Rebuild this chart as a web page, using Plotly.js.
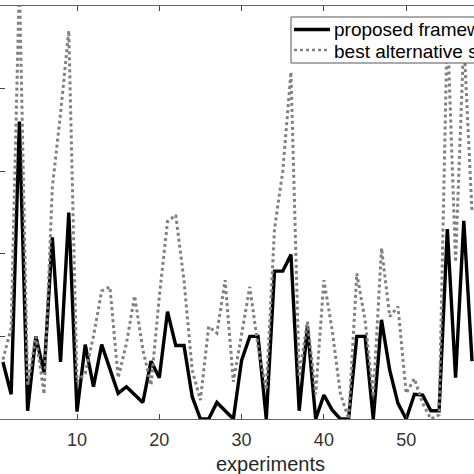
<!DOCTYPE html>
<html>
<head>
<meta charset="utf-8">
<script src="https://cdn.plot.ly/plotly-3.0.1.min.js"></script>
<style>html,body{margin:0;padding:0;background:#fff;}#chart{width:474px;height:474px;}</style>
</head>
<body>
<div id="chart"></div>
<script>
var experiments = [];
for (var i = 1; i <= 58; i++) experiments.push(i);

var proposedFramework = [
  0.69, 0.30, 3.60, 0.10, 1.00, 0.56, 2.20, 0.69, 2.50, 0.09,
  0.90, 0.39, 0.90, 0.60, 0.31, 0.39, 0.29, 0.20, 0.70, 0.50,
  1.30, 0.89, 0.89, 0.27, 0.00, 0.00, 0.20, 0.10, 0.00, 0.71,
  1.00, 1.00, 0.00, 1.79, 1.79, 1.99, 0.10, 1.12, 0.00, 0.29,
  0.11, 0.00, 0.00, 1.00, 1.00, 0.00, 1.20, 0.59, 0.19, 0.00,
  0.30, 0.29, 0.10, 0.10, 2.30, 0.50, 2.40, 0.70
];

var bestAlternative = [
  0.72, 1.10, 5.30, 0.40, 1.00, 0.30, 2.80, 3.70, 4.70, 0.45,
  0.55, 1.00, 1.55, 1.60, 0.50, 0.91, 1.49, 0.84, 0.41, 1.48,
  2.39, 2.47, 1.68, 0.59, 0.23, 1.12, 1.04, 1.68, 0.45, 1.04,
  1.60, 0.88, 0.35, 2.30, 3.00, 4.20, 0.51, 1.18, 0.30, 1.68,
  1.08, 0.31, 0.00, 1.76, 1.20, 0.27, 2.07, 1.24, 1.36, 0.31,
  0.49, 0.19, 0.00, 0.05, 4.80, 1.90, 4.60, 2.50
];

var xTickVals = [10, 20, 30, 40, 50, 60];
var yTickVals = [0, 1, 2, 3, 4, 5];
var seriesNames = ['proposed framework', 'best alternative solution'];
var xTitle = 'experiments';

var font = 'Liberation Sans, Arial, Helvetica, sans-serif';
var solidColor = '#000000';
var dotColor = '#808080';

var traces = [
  {
    x: experiments, y: proposedFramework, name: seriesNames[0],
    type: 'scatter', mode: 'lines',
    line: {color: solidColor, width: 3.4}
  },
  {
    x: experiments, y: bestAlternative, name: seriesNames[1],
    type: 'scatter', mode: 'lines',
    line: {color: dotColor, width: 3, dash: 'dot'}
  }
];

// pixel helpers for the legend box (plot area: x 0..474, y 6..419)
function px(xp) { return xp / 474; }
function py(yp) { return (419 - yp) / 413; }

var layout = {
  width: 474, height: 474,
  margin: {l: 0, r: 0, t: 6, b: 55, autoexpand: false},
  paper_bgcolor: '#ffffff', plot_bgcolor: '#ffffff',
  font: {family: font, size: 18, color: '#262626'},
  showlegend: false,
  xaxis: {
    range: [0.644, 58.24],
    tickvals: xTickVals,
    ticks: 'inside', ticklen: 5, tickcolor: '#444444', tickwidth: 1,
    showline: true, linecolor: '#666666', linewidth: 1, mirror: 'ticks',
    showgrid: false, zeroline: false,
    ticklabelstandoff: 4,
    tickfont: {family: font, size: 18, color: '#333333'}
  },
  yaxis: {
    range: [0, 5],
    tickvals: yTickVals,
    ticks: 'inside', ticklen: 5, tickcolor: '#444444', tickwidth: 1,
    showline: false, showgrid: false, zeroline: false,
    showticklabels: false
  },
  shapes: [
    {type: 'rect', xref: 'paper', yref: 'paper',
     x0: px(291), x1: px(490), y0: py(63), y1: py(17),
     line: {color: '#555555', width: 1}, fillcolor: '#ffffff', layer: 'above'},
    {type: 'line', xref: 'paper', yref: 'paper',
     x0: px(294), x1: px(330), y0: py(29.5), y1: py(29.5),
     line: {color: solidColor, width: 3.4}, layer: 'above'},
    {type: 'line', xref: 'paper', yref: 'paper',
     x0: px(294), x1: px(330), y0: py(50), y1: py(50),
     line: {color: dotColor, width: 2.6, dash: 'dot'}, layer: 'above'}
  ],
  annotations: [
    {
      text: xTitle, xref: 'paper', yref: 'paper',
      x: 270 / 474, y: (419 - 464) / 413, xanchor: 'center', yanchor: 'middle',
      showarrow: false, font: {family: font, size: 20, color: '#262626'}
    },
    {
      text: seriesNames[0], xref: 'paper', yref: 'paper',
      x: px(332), y: py(29.5), xanchor: 'left', yanchor: 'middle',
      showarrow: false, font: {family: font, size: 19, color: '#000000'}
    },
    {
      text: seriesNames[1], xref: 'paper', yref: 'paper',
      x: px(332), y: py(51), xanchor: 'left', yanchor: 'middle',
      showarrow: false, font: {family: font, size: 19, color: '#000000'}
    }
  ]
};

Plotly.newPlot('chart', traces, layout, {staticPlot: true, displayModeBar: false});
</script>
</body>
</html>
